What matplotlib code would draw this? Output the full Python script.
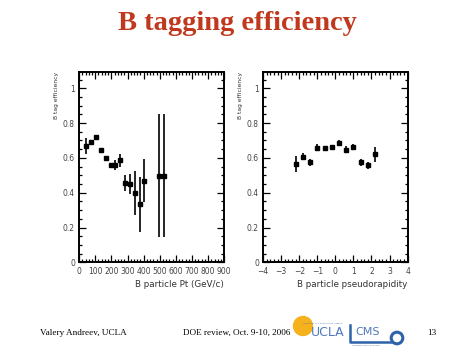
import matplotlib
matplotlib.use('Agg')
import matplotlib.pyplot as plt
from matplotlib.ticker import MultipleLocator
from matplotlib.patches import Circle

# B tag efficiency vs Pt
pt = [45, 75, 105, 135, 165, 195, 225, 255, 285, 315, 345, 375, 405, 495, 525]
eff_pt = [0.669, 0.690, 0.720, 0.648, 0.602, 0.557, 0.559, 0.586, 0.454, 0.450,
          0.398, 0.333, 0.469, 0.498, 0.498]
err_pt = [0.045, 0.010, 0.008, 0.008, 0.008, 0.010, 0.027, 0.038, 0.045, 0.060,
          0.128, 0.158, 0.122, 0.353, 0.353]

# B tag efficiency vs pseudorapidity
eta = [-2.2, -1.8, -1.4, -1.0, -0.6, -0.2, 0.2, 0.6, 1.0, 1.4, 1.8, 2.2]
eff_eta = [0.565, 0.607, 0.575, 0.659, 0.659, 0.663, 0.688, 0.648, 0.663,
           0.575, 0.557, 0.621]
err_eta = [0.048, 0.020, 0.020, 0.020, 0.012, 0.012, 0.012, 0.020, 0.016,
           0.020, 0.020, 0.043]

title_color = '#c0391f'
tick_color = '#444444'

fig = plt.figure(figsize=(4.74, 3.55), dpi=100)
fig.text(0.5, 0.935, 'B tagging efficiency', ha='center', va='center',
         fontsize=20.5, fontweight='bold', color=title_color,
         family='Liberation Serif')

ax1 = fig.add_axes([0.167, 0.261, 0.306, 0.537])
ax2 = fig.add_axes([0.555, 0.261, 0.305, 0.537])


def style_axes(ax, xlim, xmaj, xmin, xlabel):
    ax.set_xlim(*xlim)
    ax.set_ylim(0, 1.095)
    ax.xaxis.set_major_locator(MultipleLocator(xmaj))
    ax.xaxis.set_minor_locator(MultipleLocator(xmin))
    ax.yaxis.set_major_locator(MultipleLocator(0.2))
    ax.yaxis.set_minor_locator(MultipleLocator(0.05))
    ax.tick_params(which='both', direction='in', top=True, right=True,
                   labelsize=5.5, labelcolor=tick_color, width=0.9, pad=3)
    ax.tick_params(which='major', length=5)
    ax.tick_params(which='minor', length=2.5)
    for s in ax.spines.values():
        s.set_linewidth(1.4)
    ax.set_yticks([0, 0.2, 0.4, 0.6, 0.8, 1.0])
    ax.set_yticklabels(['0', '0.2', '0.4', '0.6', '0.8', '1'])
    ax.set_xlabel(xlabel, fontsize=6.3, color='#333333', loc='right',
                  labelpad=3)
    ax.set_ylabel('B tag efficiency', fontsize=4.3, color='#333333',
                  loc='top', labelpad=2.5)


ax1.errorbar(pt, eff_pt, yerr=err_pt, xerr=6, fmt='s', color='black',
             markersize=3.2, elinewidth=1.2, capsize=0)
style_axes(ax1, (0, 900), 100, 20, 'B particle Pt (GeV/c)')
ax1.set_xticks(range(0, 901, 100))
ax1.set_xticklabels([str(v) for v in range(0, 901, 100)])

ax2.errorbar(eta, eff_eta, yerr=err_eta, xerr=0.06, fmt='s', color='black',
             markersize=3.2, elinewidth=1.2, capsize=0)
style_axes(ax2, (-4, 4), 1, 0.2, 'B particle pseudorapidity')

# footer
fig.text(0.084, 0.062, 'Valery Andreev, UCLA', fontsize=6.6,
         family='Liberation Serif', va='center')
fig.text(0.386, 0.062, 'DOE review, Oct. 9-10, 2006', fontsize=6.6,
         family='Liberation Serif', va='center')
fig.text(0.901, 0.062, '13', fontsize=6.6, family='Liberation Serif',
         va='center')

# logo (approximation), drawn in pixel coordinates
lg = fig.add_axes([0, 0, 1, 1], zorder=-1)
lg.set_xlim(0, 474)
lg.set_ylim(355, 0)
lg.axis('off')
lg.add_patch(Circle((303, 326), 9.5, color='#f6b21c', zorder=1))
lg.text(303, 323, 'University of California Los Angeles', fontsize=1.6,
        color='#4a6fb0', va='center', zorder=3)
lg.text(311, 333, 'UCLA', fontsize=9, color='#4f79bd', va='center', zorder=3)
lg.text(355, 332, 'CMS', fontsize=8, color='#4f79bd', va='center', zorder=3)
lg.plot([350, 350, 391], [325, 342, 342], color='#2f63a8', lw=1.8, zorder=2)
lg.add_patch(Circle((397, 338), 5.8, fill=False, ec='#2f63a8', lw=2.2,
                    zorder=2))
lg.text(352, 345.5, 'Compact Muon Solenoid', fontsize=1.6, color='#4a6fb0',
        va='center', zorder=3)

fig.savefig('out.png', dpi=100)
